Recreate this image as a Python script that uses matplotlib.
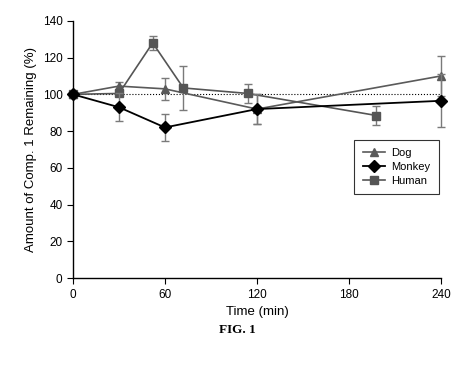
import matplotlib
matplotlib.use("Agg")
import matplotlib.pyplot as plt

plt.rcParams['font.family'] = ['Liberation Sans', 'DejaVu Sans']

# Data
dog_t = [0, 30, 60, 120, 240]
dog_v = [100, 104.5, 103, 92, 110]
dog_e = [0, 2.5, 6, 8, 11]

monkey_t = [0, 30, 60, 120, 240]
monkey_v = [100, 93, 82, 92, 96.5]
monkey_e = [0, 7.5, 7.5, 8, 14.5]

human_t = [0, 30, 52, 72, 114, 198]
human_v = [100, 100.5, 128, 103.5, 100.5, 88.5]
human_e = [0, 0, 4, 12, 5, 5]

ref_t = [0, 240]
ref_v = [100, 100]

fig = plt.figure(figsize=(4.74, 3.66), dpi=100)
ax = fig.add_axes([0.154, 0.240, 0.776, 0.703])

ax.plot(ref_t, ref_v, color='black', linestyle=':', linewidth=0.8, zorder=1)

series = [
    ('Dog', dog_t, dog_v, dog_e, '#5a5a5a', '^', 1.2, 3),
    ('Monkey', monkey_t, monkey_v, monkey_e, 'black', 'D', 1.3, 4),
    ('Human', human_t, human_v, human_e, '#555555', 's', 1.2, 3),
]
handles = []
for name, t, v, e, col, mk, lw, z in series:
    eb = ax.errorbar(t, v, yerr=e, color=col, ecolor='#7a7a7a',
                     marker=mk, markersize=6, linewidth=lw, elinewidth=1,
                     capsize=3, label=name, zorder=z)
    line, caps, bars = eb.lines
    for art in [line] + list(caps) + list(bars):
        art.set_clip_on(False)
    handles.append(line)

ax.set_xlim(0, 240)
ax.set_ylim(0, 140)
ax.set_xticks([0, 60, 120, 180, 240])
ax.set_yticks(range(0, 141, 20))
ax.tick_params(direction='out', length=4, labelsize=8.5, width=0.8)
for s in ['top', 'right']:
    ax.spines[s].set_visible(False)
ax.spines['left'].set_linewidth(1)
ax.spines['bottom'].set_linewidth(1)

ax.set_xlabel('Time (min)', fontsize=9.5)
ax.set_ylabel('Amount of Comp. 1 Remaining (%)', fontsize=9.5)

leg = ax.legend(handles, ['Dog', 'Monkey', 'Human'], loc='upper right',
                bbox_to_anchor=(0.995, 0.537), borderaxespad=0, fontsize=8,
                frameon=True, fancybox=False, edgecolor='black',
                handlelength=2.0, borderpad=0.75, labelspacing=0.35,
                handletextpad=0.6)
leg.get_frame().set_linewidth(0.8)

fig.text(0.50, 0.098, 'FIG. 1', ha='center', va='center', fontsize=9.5,
         fontweight='bold', family=['Liberation Serif', 'DejaVu Serif'])

fig.savefig('out.png', dpi=100)
